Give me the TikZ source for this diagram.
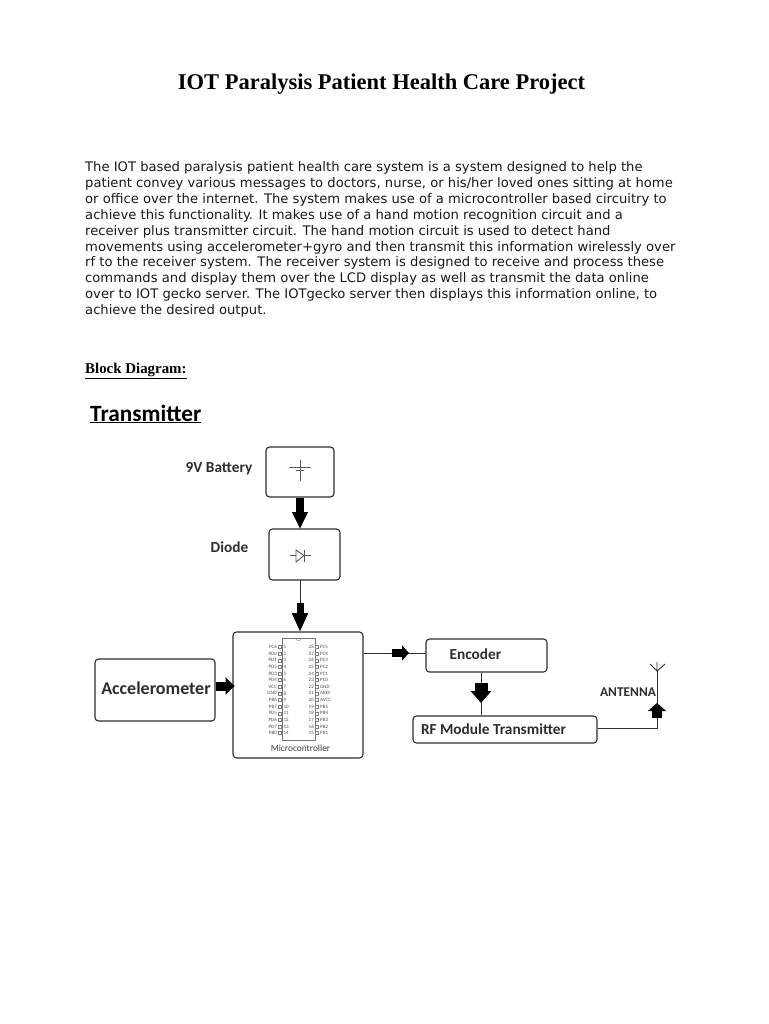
\documentclass[tikz,border=0pt]{standalone}
\usepackage{fontspec}
\setmainfont{Liberation Serif}
\setsansfont{Carlito}
\newfontfamily\bodyfont{DejaVu Sans}
\usepackage{xcolor}
\definecolor{ink}{RGB}{45,45,45}
\usepackage{tikz}
\usetikzlibrary{arrows.meta,calc}
\tikzset{
  blockbox/.style={draw=ink,line width=1.1pt,rounded corners=3.5pt,inner sep=0pt},
  boxtext/.style={font=\sffamily\bfseries\fontsize{15.3}{18}\selectfont,text=ink,inner sep=0pt},
  wire/.style={draw=ink,line width=1pt},
  symb/.style={draw=black!65,line width=0.9pt},
  fatarrow/.style n args={3}{draw=black,line width=#1,-{Triangle[length=#2,width=#3]}},
  pintext/.style={font=\sffamily\fontsize{5}{5}\selectfont,text=black!70,inner sep=0pt}
}
\begin{document}
\begin{tikzpicture}[x=1pt,y=-1pt]
  \useasboundingbox (0,0) rectangle (768,1024);
  % page text
  \node[font=\bfseries\fontsize{22.5}{26}\selectfont] (title) at (381.5,84) {IOT Paralysis Patient Health Care Project};
  \node[anchor=north west,inner sep=0pt,align=left,text=black!90,font=\bodyfont\fontsize{13.15}{15.88}\selectfont] (bodytext) at (85,161.5) {
    The IOT based paralysis patient health care system is a system designed to help the\\
    patient convey various messages to doctors, nurse, or his/her loved ones sitting at home\\
    or office over the internet. The system makes use of a microcontroller based circuitry to\\
    achieve this functionality. It makes use of a hand motion recognition circuit and a\\
    receiver plus transmitter circuit. The hand motion circuit is used to detect hand\\
    movements using accelerometer+gyro and then transmit this information wirelessly over\\
    rf to the receiver system. The receiver system is designed to receive and process these\\
    commands and display them over the LCD display as well as transmit the data online\\
    over to IOT gecko server. The IOTgecko server then displays this information online, to\\
    achieve the desired output.};
  \node[anchor=west,inner sep=0pt] (blockhead) at (85,371) {\bfseries\fontsize{14.9}{17}\selectfont\underline{Block Diagram:}};
  \node[anchor=west,inner sep=0pt] (txhead) at (90,414) {\sffamily\bfseries\fontsize{23.3}{27}\selectfont\underline{Transmitter}};

  % blocks
  \node[blockbox,minimum width=68pt,minimum height=50pt] (battery) at (300,472) {};
  \node[blockbox,minimum width=71pt,minimum height=51pt] (diode) at (304.5,554.5) {};
  \node[blockbox,minimum width=130pt,minimum height=126pt] (mcu) at (298,695) {};
  \node[blockbox,minimum width=120pt,minimum height=62pt] (accel) at (155,690) {};
  \node[blockbox,minimum width=121pt,minimum height=33pt] (encoder) at (486.5,655.5) {};
  \node[blockbox,minimum width=184pt,minimum height=27pt] (rfmod) at (505,729.5) {};

  % labels
  \node[boxtext] (batterylabel) at (219,468.5) {9V Battery};
  \node[boxtext] (diodelabel) at (229.5,547) {Diode};
  \node[boxtext,font=\sffamily\bfseries\fontsize{18}{21}\selectfont] (accellabel) at (156,688) {Accelerometer};
  \node[boxtext] (encoderlabel) at (475.5,654) {Encoder};
  \node[boxtext] (rflabel) at (493.5,729) {RF Module Transmitter};
  \node[boxtext,font=\sffamily\bfseries\fontsize{13.4}{15}\selectfont] (antennalabel) at (628,692) {ANTENNA};
  \node[font=\sffamily\fontsize{9.4}{11}\selectfont,text=black!75,inner sep=0pt] (mculabel) at (300.5,748) {Microcontroller};

  % chip with its pins
  \node[draw=black!55,line width=0.7pt,minimum width=33pt,minimum height=102pt,inner sep=0pt] (chip) at (298.5,689) {};
  \draw[draw=black!45,line width=0.5pt] ($(chip.north)+(-3,0)$) arc (180:0:3);
  \foreach \pinname [count=\n] in {PC6,PD0,PD1,PD2,PD3,PD4,VCC,GND,PB6,PB7,PD5,PD6,PD7,PB0} {
    \node[pintext,anchor=east] (lname\n) at (277,{647+(\n-1)*6.62}) {\pinname};
    \node[draw=black!50,line width=0.3pt,minimum size=3pt,inner sep=0pt] (lpin\n) at (280,{647+(\n-1)*6.62}) {};
    \node[pintext,anchor=west] (lnum\n) at (283.5,{647+(\n-1)*6.62}) {\n};
  }
  \foreach \pinname [count=\n] in {PC5,PC4,PC3,PC2,PC1,PC0,GND,AREF,AVCC,PB5,PB4,PB3,PB2,PB1} {
    \pgfmathtruncatemacro{\pinnum}{29-\n}
    \node[pintext,anchor=west] (rname\n) at (320,{647+(\n-1)*6.62}) {\pinname};
    \node[draw=black!50,line width=0.3pt,minimum size=3pt,inner sep=0pt] (rpin\n) at (317,{647+(\n-1)*6.62}) {};
    \node[pintext,anchor=east] (rnum\n) at (314,{647+(\n-1)*6.62}) {\pinnum};
  }

  % symbols in the boxes
  \draw[symb] (289,467) -- (311,467) (300,460) -- (300,481) (296,470) -- (304,470);
  \draw[symb] (290,555.5) -- (296,555.5) (304,550) -- (304,562) (304,555.5) -- (311,555.5);
  \draw[symb] (296,550) -- (304,555.5) -- (296,562) -- cycle;

  % connectors
  \coordinate (fatA) at (300,603);
  \coordinate (fatB) at (391.5,653);
  \coordinate (fatC) at (481,683);
  \coordinate (fatD) at (657,718);
  \coordinate (antfoot) at (657,728.5);
  \coordinate (anttip) at (657,671);
  \draw[fatarrow={8pt}{17pt}{15pt}] (battery.south) -- (300,529);
  \draw[wire] (300,580) -- (fatA);
  \draw[fatarrow={7pt}{19pt}{15pt}] (fatA) -- (300,632);
  \draw[fatarrow={9pt}{9pt}{17pt}] (accel.east) ++(0,-4) -- ++(19,0);
  \draw[wire] (mcu.east |- fatB) -- (encoder.west |- fatB);
  \draw[fatarrow={8pt}{7pt}{15pt}] (fatB) -- ++(17.5,0);
  \draw[wire] (encoder.south -| fatC) -- (rfmod.north -| fatC);
  \draw[fatarrow={13pt}{12pt}{20pt}] (fatC) -- ++(0,20);
  \draw[wire] (rfmod.east |- antfoot) -- (antfoot) -- (anttip);
  \draw[fatarrow={10pt}{8pt}{18pt}] (fatD) -- ++(0,-15);
  \draw[symb,draw=ink] (650,664) -- (anttip) -- (665,664) (anttip) -- (657,662);
\end{tikzpicture}
\end{document}
